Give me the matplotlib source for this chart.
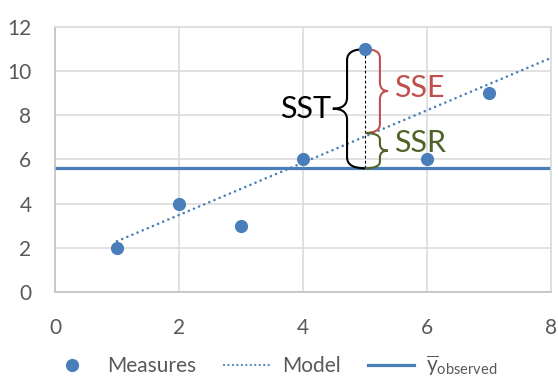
import matplotlib.pyplot as plt
from matplotlib.lines import Line2D
from matplotlib.path import Path
from matplotlib.patches import PathPatch

plt.rcParams["font.family"] = ["Lato", "DejaVu Sans"]
plt.rcParams["mathtext.fontset"] = "custom"
plt.rcParams["mathtext.rm"] = "Lato"
plt.rcParams["mathtext.it"] = "Lato"

# data
measure_x = [1, 2, 3, 4, 5, 6, 7]
measure_y = [2, 4, 3, 6, 11, 6, 9]
model_x = [1, 8]
model_y = [2.3, 10.6]
y_mean = 5.6
model_at_5 = 7.2
x_ticks = [0, 2, 4, 6, 8]
y_ticks = [0, 2, 4, 6, 8, 10, 12]

BLUE = "#4a7ebb"
GRID = "#d9d9d9"
AXIS = "#bfbfbf"
TEXT = "#595959"
RED = "#c0504d"
GREEN = "#4f6228"


def brace(ax, x_end, x_back, x_tip, y0, y1, r, color):
    ym = (y0 + y1) / 2
    verts = [
        (x_end, y1), (x_back, y1), (x_back, y1 - r),
        (x_back, ym + r),
        (x_back, ym), (x_tip, ym),
        (x_back, ym), (x_back, ym - r),
        (x_back, y0 + r),
        (x_back, y0), (x_end, y0),
    ]
    codes = [
        Path.MOVETO, Path.CURVE3, Path.CURVE3,
        Path.LINETO,
        Path.CURVE3, Path.CURVE3,
        Path.CURVE3, Path.CURVE3,
        Path.LINETO,
        Path.CURVE3, Path.CURVE3,
    ]
    ax.add_patch(PathPatch(Path(verts, codes), fill=False, edgecolor=color,
                           linewidth=1.5, zorder=4))


fig = plt.figure(figsize=(5.58, 3.79), dpi=100)
ax = fig.add_axes([0.0986, 0.2296, 0.8889, 0.6992])

ax.set_xlim(0, 8)
ax.set_ylim(0, 12)
ax.set_xticks(x_ticks)
ax.set_yticks(y_ticks)
ax.grid(True, color=GRID, linewidth=1.1, zorder=0)
ax.set_axisbelow(True)
for side in ["top", "right"]:
    ax.spines[side].set_color(GRID)
    ax.spines[side].set_linewidth(1.1)
for side in ["left", "bottom"]:
    ax.spines[side].set_color(AXIS)
    ax.spines[side].set_linewidth(1.1)
ax.tick_params(length=0, labelsize=15, labelcolor=TEXT)
ax.tick_params(axis="y", pad=17)
ax.tick_params(axis="x", pad=19)

ax.axhline(y_mean, color=BLUE, linewidth=2.3, zorder=2)
ax.plot(model_x, model_y, color=BLUE, linewidth=1.9,
        linestyle=(0, (0.01, 2.1)), dash_capstyle="round", zorder=3)
ax.plot(measure_x, measure_y, "o", color=BLUE, markersize=9.5,
        markeredgewidth=0, zorder=5)

# SST / SSE / SSR annotation at x = 5
x_pt = measure_x[4]
y_pt = measure_y[4]
ax.plot([x_pt, x_pt], [y_mean, y_pt], color="black", linewidth=0.8,
        linestyle=(0, (2.5, 2)), zorder=3)
brace(ax, x_pt, 4.71, 4.48, y_mean, y_pt, 0.5, "black")
brace(ax, x_pt, 5.24, 5.37, model_at_5, y_pt, 0.4, RED)
brace(ax, x_pt, 5.24, 5.37, y_mean, model_at_5, 0.3, GREEN)

ax.text(4.45, (y_mean + y_pt) / 2, "SST", ha="right", va="center",
        fontsize=22, color="black")
ax.text(5.47, 9.25, "SSE", ha="left", va="center", fontsize=22, color=RED)
ax.text(5.47, 6.75, "SSR", ha="left", va="center", fontsize=22, color=GREEN)

handles = [
    Line2D([], [], marker="o", linestyle="none", color=BLUE, markersize=9.5,
           markeredgewidth=0),
    Line2D([], [], color=BLUE, linewidth=1.6, linestyle=(0, (0.01, 2.0)),
           dash_capstyle="round"),
    Line2D([], [], color=BLUE, linewidth=2.3),
]
labels = ["Measures", "Model", r"$\overline{\mathrm{y}}_{\mathrm{observed}}$"]
fig.legend(handles, labels, loc="center", bbox_to_anchor=(0.49, 0.035),
           ncol=3, frameon=False, fontsize=15, labelcolor=TEXT,
           handlelength=2.2, handletextpad=0.6, columnspacing=1.3)

fig.savefig("out.png", dpi=100)
